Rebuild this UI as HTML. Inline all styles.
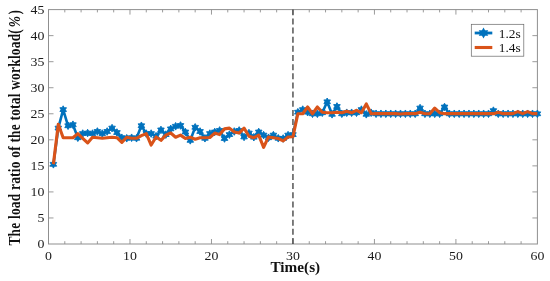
<!DOCTYPE html><html><head><meta charset="utf-8"><title>chart</title><style>html,body{margin:0;padding:0;background:#fff}</style></head><body><svg width="550" height="281" viewBox="0 0 550 281" style="display:block">
<rect width="550" height="281" fill="#fff"/>
<path d="M64.80 244.00v-2.80M64.80 9.60v2.80M81.09 244.00v-2.80M81.09 9.60v2.80M97.39 244.00v-2.80M97.39 9.60v2.80M113.69 244.00v-2.80M113.69 9.60v2.80M129.98 244.00v-5.00M129.98 9.60v5.00M146.28 244.00v-2.80M146.28 9.60v2.80M162.58 244.00v-2.80M162.58 9.60v2.80M178.87 244.00v-2.80M178.87 9.60v2.80M195.17 244.00v-2.80M195.17 9.60v2.80M211.47 244.00v-5.00M211.47 9.60v5.00M227.76 244.00v-2.80M227.76 9.60v2.80M244.06 244.00v-2.80M244.06 9.60v2.80M260.36 244.00v-2.80M260.36 9.60v2.80M276.65 244.00v-2.80M276.65 9.60v2.80M292.95 244.00v-5.00M292.95 9.60v5.00M309.25 244.00v-2.80M309.25 9.60v2.80M325.54 244.00v-2.80M325.54 9.60v2.80M341.84 244.00v-2.80M341.84 9.60v2.80M358.14 244.00v-2.80M358.14 9.60v2.80M374.43 244.00v-5.00M374.43 9.60v5.00M390.73 244.00v-2.80M390.73 9.60v2.80M407.03 244.00v-2.80M407.03 9.60v2.80M423.32 244.00v-2.80M423.32 9.60v2.80M439.62 244.00v-2.80M439.62 9.60v2.80M455.92 244.00v-5.00M455.92 9.60v5.00M472.21 244.00v-2.80M472.21 9.60v2.80M488.51 244.00v-2.80M488.51 9.60v2.80M504.81 244.00v-2.80M504.81 9.60v2.80M521.10 244.00v-2.80M521.10 9.60v2.80M48.50 217.96h5M537.40 217.96h-5M48.50 191.91h5M537.40 191.91h-5M48.50 165.87h5M537.40 165.87h-5M48.50 139.82h5M537.40 139.82h-5M48.50 113.78h5M537.40 113.78h-5M48.50 87.73h5M537.40 87.73h-5M48.50 61.69h5M537.40 61.69h-5M48.50 35.64h5M537.40 35.64h-5" stroke="#8f8f8f" stroke-width="0.9" fill="none"/>
<rect x="48.50" y="9.60" width="488.90" height="234.40" fill="none" stroke="#8f8f8f" stroke-width="1"/>
<path d="M292.95 244.00V9.60" stroke="#3a3a3a" stroke-width="1.3" stroke-dasharray="6 3.15" fill="none"/>
<path d="M53.39 164.30 L58.28 128.10 L63.17 109.61 L68.06 125.76 L72.94 124.72 L77.83 137.74 L82.72 133.57 L87.61 133.05 L92.50 133.57 L97.39 131.49 L102.28 133.57 L107.17 131.49 L112.06 128.10 L116.95 132.53 L121.83 137.74 L126.72 138.26 L131.61 137.74 L136.50 138.26 L141.39 125.76 L146.28 133.57 L151.17 133.57 L156.06 136.18 L160.95 129.93 L165.84 134.61 L170.72 128.88 L175.61 126.28 L180.50 125.50 L185.39 132.01 L190.28 140.34 L195.17 127.32 L200.06 131.49 L204.95 138.26 L209.84 133.57 L214.73 132.01 L219.61 130.45 L224.50 138.52 L229.39 134.61 L234.28 131.49 L239.17 130.45 L244.06 136.96 L248.95 133.05 L253.84 137.22 L258.73 132.01 L263.62 135.13 L268.50 137.74 L273.39 135.13 L278.28 138.26 L283.17 138.52 L288.06 135.13 L292.95 134.61 L297.84 112.22 L302.73 109.61 L307.62 112.22 L312.51 113.78 L317.39 113.78 L322.28 112.74 L327.17 101.80 L332.06 114.30 L336.95 106.49 L341.84 113.78 L346.73 112.74 L351.62 112.74 L356.51 112.74 L361.40 109.61 L366.28 114.30 L371.17 112.74 L376.06 113.78 L380.95 113.78 L385.84 113.78 L390.73 113.78 L395.62 113.78 L400.51 113.78 L405.40 113.78 L410.29 113.78 L415.18 113.78 L420.06 108.05 L424.95 113.78 L429.84 113.78 L434.73 113.78 L439.62 113.78 L444.51 107.01 L449.40 113.78 L454.29 113.78 L459.18 113.78 L464.06 113.78 L468.95 113.78 L473.84 113.78 L478.73 113.78 L483.62 113.78 L488.51 113.78 L493.40 110.65 L498.29 113.78 L503.18 113.78 L508.07 113.78 L512.95 113.78 L517.84 113.78 L522.73 113.78 L527.62 113.78 L532.51 113.78 L537.40 113.78" stroke="#0072BD" stroke-width="2.6" fill="none" stroke-linejoin="round"/>
<path d="M53.39 160.50 L52.29 162.40 L50.10 162.40 L51.20 164.30 L50.10 166.20 L52.29 166.20 L53.39 168.10 L54.49 166.20 L56.68 166.20 L55.58 164.30 L56.68 162.40 L54.49 162.40ZM58.28 124.30 L57.18 126.20 L54.99 126.20 L56.08 128.10 L54.99 130.00 L57.18 130.00 L58.28 131.90 L59.37 130.00 L61.57 130.00 L60.47 128.10 L61.57 126.20 L59.37 126.20ZM63.17 105.81 L62.07 107.71 L59.88 107.71 L60.97 109.61 L59.88 111.51 L62.07 111.51 L63.17 113.41 L64.26 111.51 L66.46 111.51 L65.36 109.61 L66.46 107.71 L64.26 107.71ZM68.06 121.96 L66.96 123.86 L64.77 123.86 L65.86 125.76 L64.77 127.66 L66.96 127.66 L68.06 129.56 L69.15 127.66 L71.35 127.66 L70.25 125.76 L71.35 123.86 L69.15 123.86ZM72.94 120.92 L71.85 122.82 L69.65 122.82 L70.75 124.72 L69.65 126.62 L71.85 126.62 L72.94 128.52 L74.04 126.62 L76.24 126.62 L75.14 124.72 L76.24 122.82 L74.04 122.82ZM77.83 133.94 L76.74 135.84 L74.54 135.84 L75.64 137.74 L74.54 139.64 L76.74 139.64 L77.83 141.54 L78.93 139.64 L81.12 139.64 L80.03 137.74 L81.12 135.84 L78.93 135.84ZM82.72 129.77 L81.63 131.67 L79.43 131.67 L80.53 133.57 L79.43 135.47 L81.63 135.47 L82.72 137.37 L83.82 135.47 L86.01 135.47 L84.92 133.57 L86.01 131.67 L83.82 131.67ZM87.61 129.25 L86.52 131.15 L84.32 131.15 L85.42 133.05 L84.32 134.95 L86.52 134.95 L87.61 136.85 L88.71 134.95 L90.90 134.95 L89.81 133.05 L90.90 131.15 L88.71 131.15ZM92.50 129.77 L91.40 131.67 L89.21 131.67 L90.31 133.57 L89.21 135.47 L91.40 135.47 L92.50 137.37 L93.60 135.47 L95.79 135.47 L94.69 133.57 L95.79 131.67 L93.60 131.67ZM97.39 127.69 L96.29 129.59 L94.10 129.59 L95.20 131.49 L94.10 133.39 L96.29 133.39 L97.39 135.29 L98.49 133.39 L100.68 133.39 L99.58 131.49 L100.68 129.59 L98.49 129.59ZM102.28 129.77 L101.18 131.67 L98.99 131.67 L100.09 133.57 L98.99 135.47 L101.18 135.47 L102.28 137.37 L103.38 135.47 L105.57 135.47 L104.47 133.57 L105.57 131.67 L103.38 131.67ZM107.17 127.69 L106.07 129.59 L103.88 129.59 L104.97 131.49 L103.88 133.39 L106.07 133.39 L107.17 135.29 L108.26 133.39 L110.46 133.39 L109.36 131.49 L110.46 129.59 L108.26 129.59ZM112.06 124.30 L110.96 126.20 L108.77 126.20 L109.86 128.10 L108.77 130.00 L110.96 130.00 L112.06 131.90 L113.15 130.00 L115.35 130.00 L114.25 128.10 L115.35 126.20 L113.15 126.20ZM116.95 128.73 L115.85 130.63 L113.66 130.63 L114.75 132.53 L113.66 134.43 L115.85 134.43 L116.95 136.33 L118.04 134.43 L120.24 134.43 L119.14 132.53 L120.24 130.63 L118.04 130.63ZM121.83 133.94 L120.74 135.84 L118.54 135.84 L119.64 137.74 L118.54 139.64 L120.74 139.64 L121.83 141.54 L122.93 139.64 L125.13 139.64 L124.03 137.74 L125.13 135.84 L122.93 135.84ZM126.72 134.46 L125.63 136.36 L123.43 136.36 L124.53 138.26 L123.43 140.16 L125.63 140.16 L126.72 142.06 L127.82 140.16 L130.01 140.16 L128.92 138.26 L130.01 136.36 L127.82 136.36ZM131.61 133.94 L130.52 135.84 L128.32 135.84 L129.42 137.74 L128.32 139.64 L130.52 139.64 L131.61 141.54 L132.71 139.64 L134.90 139.64 L133.81 137.74 L134.90 135.84 L132.71 135.84ZM136.50 134.46 L135.41 136.36 L133.21 136.36 L134.31 138.26 L133.21 140.16 L135.41 140.16 L136.50 142.06 L137.60 140.16 L139.79 140.16 L138.70 138.26 L139.79 136.36 L137.60 136.36ZM141.39 121.96 L140.29 123.86 L138.10 123.86 L139.20 125.76 L138.10 127.66 L140.29 127.66 L141.39 129.56 L142.49 127.66 L144.68 127.66 L143.58 125.76 L144.68 123.86 L142.49 123.86ZM146.28 129.77 L145.18 131.67 L142.99 131.67 L144.09 133.57 L142.99 135.47 L145.18 135.47 L146.28 137.37 L147.38 135.47 L149.57 135.47 L148.47 133.57 L149.57 131.67 L147.38 131.67ZM151.17 129.77 L150.07 131.67 L147.88 131.67 L148.98 133.57 L147.88 135.47 L150.07 135.47 L151.17 137.37 L152.27 135.47 L154.46 135.47 L153.36 133.57 L154.46 131.67 L152.27 131.67ZM156.06 132.38 L154.96 134.28 L152.77 134.28 L153.86 136.18 L152.77 138.08 L154.96 138.08 L156.06 139.98 L157.15 138.08 L159.35 138.08 L158.25 136.18 L159.35 134.28 L157.15 134.28ZM160.95 126.13 L159.85 128.03 L157.66 128.03 L158.75 129.93 L157.66 131.83 L159.85 131.83 L160.95 133.73 L162.04 131.83 L164.24 131.83 L163.14 129.93 L164.24 128.03 L162.04 128.03ZM165.84 130.81 L164.74 132.71 L162.55 132.71 L163.64 134.61 L162.55 136.51 L164.74 136.51 L165.84 138.41 L166.93 136.51 L169.13 136.51 L168.03 134.61 L169.13 132.71 L166.93 132.71ZM170.72 125.08 L169.63 126.98 L167.43 126.98 L168.53 128.88 L167.43 130.78 L169.63 130.78 L170.72 132.68 L171.82 130.78 L174.02 130.78 L172.92 128.88 L174.02 126.98 L171.82 126.98ZM175.61 122.48 L174.52 124.38 L172.32 124.38 L173.42 126.28 L172.32 128.18 L174.52 128.18 L175.61 130.08 L176.71 128.18 L178.90 128.18 L177.81 126.28 L178.90 124.38 L176.71 124.38ZM180.50 121.70 L179.41 123.60 L177.21 123.60 L178.31 125.50 L177.21 127.40 L179.41 127.40 L180.50 129.30 L181.60 127.40 L183.79 127.40 L182.70 125.50 L183.79 123.60 L181.60 123.60ZM185.39 128.21 L184.30 130.11 L182.10 130.11 L183.20 132.01 L182.10 133.91 L184.30 133.91 L185.39 135.81 L186.49 133.91 L188.68 133.91 L187.59 132.01 L188.68 130.11 L186.49 130.11ZM190.28 136.54 L189.18 138.44 L186.99 138.44 L188.09 140.34 L186.99 142.24 L189.18 142.24 L190.28 144.14 L191.38 142.24 L193.57 142.24 L192.47 140.34 L193.57 138.44 L191.38 138.44ZM195.17 123.52 L194.07 125.42 L191.88 125.42 L192.98 127.32 L191.88 129.22 L194.07 129.22 L195.17 131.12 L196.27 129.22 L198.46 129.22 L197.36 127.32 L198.46 125.42 L196.27 125.42ZM200.06 127.69 L198.96 129.59 L196.77 129.59 L197.87 131.49 L196.77 133.39 L198.96 133.39 L200.06 135.29 L201.16 133.39 L203.35 133.39 L202.25 131.49 L203.35 129.59 L201.16 129.59ZM204.95 134.46 L203.85 136.36 L201.66 136.36 L202.75 138.26 L201.66 140.16 L203.85 140.16 L204.95 142.06 L206.04 140.16 L208.24 140.16 L207.14 138.26 L208.24 136.36 L206.04 136.36ZM209.84 129.77 L208.74 131.67 L206.55 131.67 L207.64 133.57 L206.55 135.47 L208.74 135.47 L209.84 137.37 L210.93 135.47 L213.13 135.47 L212.03 133.57 L213.13 131.67 L210.93 131.67ZM214.73 128.21 L213.63 130.11 L211.44 130.11 L212.53 132.01 L211.44 133.91 L213.63 133.91 L214.73 135.81 L215.82 133.91 L218.02 133.91 L216.92 132.01 L218.02 130.11 L215.82 130.11ZM219.61 126.65 L218.52 128.55 L216.32 128.55 L217.42 130.45 L216.32 132.35 L218.52 132.35 L219.61 134.25 L220.71 132.35 L222.91 132.35 L221.81 130.45 L222.91 128.55 L220.71 128.55ZM224.50 134.72 L223.41 136.62 L221.21 136.62 L222.31 138.52 L221.21 140.42 L223.41 140.42 L224.50 142.32 L225.60 140.42 L227.79 140.42 L226.70 138.52 L227.79 136.62 L225.60 136.62ZM229.39 130.81 L228.30 132.71 L226.10 132.71 L227.20 134.61 L226.10 136.51 L228.30 136.51 L229.39 138.41 L230.49 136.51 L232.68 136.51 L231.59 134.61 L232.68 132.71 L230.49 132.71ZM234.28 127.69 L233.19 129.59 L230.99 129.59 L232.09 131.49 L230.99 133.39 L233.19 133.39 L234.28 135.29 L235.38 133.39 L237.57 133.39 L236.48 131.49 L237.57 129.59 L235.38 129.59ZM239.17 126.65 L238.07 128.55 L235.88 128.55 L236.98 130.45 L235.88 132.35 L238.07 132.35 L239.17 134.25 L240.27 132.35 L242.46 132.35 L241.36 130.45 L242.46 128.55 L240.27 128.55ZM244.06 133.16 L242.96 135.06 L240.77 135.06 L241.87 136.96 L240.77 138.86 L242.96 138.86 L244.06 140.76 L245.16 138.86 L247.35 138.86 L246.25 136.96 L247.35 135.06 L245.16 135.06ZM248.95 129.25 L247.85 131.15 L245.66 131.15 L246.76 133.05 L245.66 134.95 L247.85 134.95 L248.95 136.85 L250.05 134.95 L252.24 134.95 L251.14 133.05 L252.24 131.15 L250.05 131.15ZM253.84 133.42 L252.74 135.32 L250.55 135.32 L251.64 137.22 L250.55 139.12 L252.74 139.12 L253.84 141.02 L254.93 139.12 L257.13 139.12 L256.03 137.22 L257.13 135.32 L254.93 135.32ZM258.73 128.21 L257.63 130.11 L255.44 130.11 L256.53 132.01 L255.44 133.91 L257.63 133.91 L258.73 135.81 L259.82 133.91 L262.02 133.91 L260.92 132.01 L262.02 130.11 L259.82 130.11ZM263.62 131.33 L262.52 133.23 L260.33 133.23 L261.42 135.13 L260.33 137.03 L262.52 137.03 L263.62 138.93 L264.71 137.03 L266.91 137.03 L265.81 135.13 L266.91 133.23 L264.71 133.23ZM268.50 133.94 L267.41 135.84 L265.21 135.84 L266.31 137.74 L265.21 139.64 L267.41 139.64 L268.50 141.54 L269.60 139.64 L271.80 139.64 L270.70 137.74 L271.80 135.84 L269.60 135.84ZM273.39 131.33 L272.30 133.23 L270.10 133.23 L271.20 135.13 L270.10 137.03 L272.30 137.03 L273.39 138.93 L274.49 137.03 L276.68 137.03 L275.59 135.13 L276.68 133.23 L274.49 133.23ZM278.28 134.46 L277.19 136.36 L274.99 136.36 L276.09 138.26 L274.99 140.16 L277.19 140.16 L278.28 142.06 L279.38 140.16 L281.57 140.16 L280.48 138.26 L281.57 136.36 L279.38 136.36ZM283.17 134.72 L282.08 136.62 L279.88 136.62 L280.98 138.52 L279.88 140.42 L282.08 140.42 L283.17 142.32 L284.27 140.42 L286.46 140.42 L285.37 138.52 L286.46 136.62 L284.27 136.62ZM288.06 131.33 L286.96 133.23 L284.77 133.23 L285.87 135.13 L284.77 137.03 L286.96 137.03 L288.06 138.93 L289.16 137.03 L291.35 137.03 L290.25 135.13 L291.35 133.23 L289.16 133.23ZM292.95 130.81 L291.85 132.71 L289.66 132.71 L290.76 134.61 L289.66 136.51 L291.85 136.51 L292.95 138.41 L294.05 136.51 L296.24 136.51 L295.14 134.61 L296.24 132.71 L294.05 132.71ZM297.84 108.42 L296.74 110.32 L294.55 110.32 L295.65 112.22 L294.55 114.12 L296.74 114.12 L297.84 116.02 L298.94 114.12 L301.13 114.12 L300.03 112.22 L301.13 110.32 L298.94 110.32ZM302.73 105.81 L301.63 107.71 L299.44 107.71 L300.53 109.61 L299.44 111.51 L301.63 111.51 L302.73 113.41 L303.82 111.51 L306.02 111.51 L304.92 109.61 L306.02 107.71 L303.82 107.71ZM307.62 108.42 L306.52 110.32 L304.33 110.32 L305.42 112.22 L304.33 114.12 L306.52 114.12 L307.62 116.02 L308.71 114.12 L310.91 114.12 L309.81 112.22 L310.91 110.32 L308.71 110.32ZM312.51 109.98 L311.41 111.88 L309.22 111.88 L310.31 113.78 L309.22 115.68 L311.41 115.68 L312.51 117.58 L313.60 115.68 L315.80 115.68 L314.70 113.78 L315.80 111.88 L313.60 111.88ZM317.39 109.98 L316.30 111.88 L314.10 111.88 L315.20 113.78 L314.10 115.68 L316.30 115.68 L317.39 117.58 L318.49 115.68 L320.69 115.68 L319.59 113.78 L320.69 111.88 L318.49 111.88ZM322.28 108.94 L321.19 110.84 L318.99 110.84 L320.09 112.74 L318.99 114.64 L321.19 114.64 L322.28 116.54 L323.38 114.64 L325.57 114.64 L324.48 112.74 L325.57 110.84 L323.38 110.84ZM327.17 98.00 L326.08 99.90 L323.88 99.90 L324.98 101.80 L323.88 103.70 L326.08 103.70 L327.17 105.60 L328.27 103.70 L330.46 103.70 L329.37 101.80 L330.46 99.90 L328.27 99.90ZM332.06 110.50 L330.97 112.40 L328.77 112.40 L329.87 114.30 L328.77 116.20 L330.97 116.20 L332.06 118.10 L333.16 116.20 L335.35 116.20 L334.26 114.30 L335.35 112.40 L333.16 112.40ZM336.95 102.69 L335.85 104.59 L333.66 104.59 L334.76 106.49 L333.66 108.39 L335.85 108.39 L336.95 110.29 L338.05 108.39 L340.24 108.39 L339.14 106.49 L340.24 104.59 L338.05 104.59ZM341.84 109.98 L340.74 111.88 L338.55 111.88 L339.65 113.78 L338.55 115.68 L340.74 115.68 L341.84 117.58 L342.94 115.68 L345.13 115.68 L344.03 113.78 L345.13 111.88 L342.94 111.88ZM346.73 108.94 L345.63 110.84 L343.44 110.84 L344.54 112.74 L343.44 114.64 L345.63 114.64 L346.73 116.54 L347.83 114.64 L350.02 114.64 L348.92 112.74 L350.02 110.84 L347.83 110.84ZM351.62 108.94 L350.52 110.84 L348.33 110.84 L349.42 112.74 L348.33 114.64 L350.52 114.64 L351.62 116.54 L352.71 114.64 L354.91 114.64 L353.81 112.74 L354.91 110.84 L352.71 110.84ZM356.51 108.94 L355.41 110.84 L353.22 110.84 L354.31 112.74 L353.22 114.64 L355.41 114.64 L356.51 116.54 L357.60 114.64 L359.80 114.64 L358.70 112.74 L359.80 110.84 L357.60 110.84ZM361.40 105.81 L360.30 107.71 L358.11 107.71 L359.20 109.61 L358.11 111.51 L360.30 111.51 L361.40 113.41 L362.49 111.51 L364.69 111.51 L363.59 109.61 L364.69 107.71 L362.49 107.71ZM366.28 110.50 L365.19 112.40 L362.99 112.40 L364.09 114.30 L362.99 116.20 L365.19 116.20 L366.28 118.10 L367.38 116.20 L369.58 116.20 L368.48 114.30 L369.58 112.40 L367.38 112.40ZM371.17 108.94 L370.08 110.84 L367.88 110.84 L368.98 112.74 L367.88 114.64 L370.08 114.64 L371.17 116.54 L372.27 114.64 L374.46 114.64 L373.37 112.74 L374.46 110.84 L372.27 110.84ZM376.06 109.98 L374.97 111.88 L372.77 111.88 L373.87 113.78 L372.77 115.68 L374.97 115.68 L376.06 117.58 L377.16 115.68 L379.35 115.68 L378.26 113.78 L379.35 111.88 L377.16 111.88ZM380.95 109.98 L379.86 111.88 L377.66 111.88 L378.76 113.78 L377.66 115.68 L379.86 115.68 L380.95 117.58 L382.05 115.68 L384.24 115.68 L383.15 113.78 L384.24 111.88 L382.05 111.88ZM385.84 109.98 L384.74 111.88 L382.55 111.88 L383.65 113.78 L382.55 115.68 L384.74 115.68 L385.84 117.58 L386.94 115.68 L389.13 115.68 L388.03 113.78 L389.13 111.88 L386.94 111.88ZM390.73 109.98 L389.63 111.88 L387.44 111.88 L388.54 113.78 L387.44 115.68 L389.63 115.68 L390.73 117.58 L391.83 115.68 L394.02 115.68 L392.92 113.78 L394.02 111.88 L391.83 111.88ZM395.62 109.98 L394.52 111.88 L392.33 111.88 L393.43 113.78 L392.33 115.68 L394.52 115.68 L395.62 117.58 L396.72 115.68 L398.91 115.68 L397.81 113.78 L398.91 111.88 L396.72 111.88ZM400.51 109.98 L399.41 111.88 L397.22 111.88 L398.31 113.78 L397.22 115.68 L399.41 115.68 L400.51 117.58 L401.60 115.68 L403.80 115.68 L402.70 113.78 L403.80 111.88 L401.60 111.88ZM405.40 109.98 L404.30 111.88 L402.11 111.88 L403.20 113.78 L402.11 115.68 L404.30 115.68 L405.40 117.58 L406.49 115.68 L408.69 115.68 L407.59 113.78 L408.69 111.88 L406.49 111.88ZM410.29 109.98 L409.19 111.88 L407.00 111.88 L408.09 113.78 L407.00 115.68 L409.19 115.68 L410.29 117.58 L411.38 115.68 L413.58 115.68 L412.48 113.78 L413.58 111.88 L411.38 111.88ZM415.18 109.98 L414.08 111.88 L411.88 111.88 L412.98 113.78 L411.88 115.68 L414.08 115.68 L415.18 117.58 L416.27 115.68 L418.47 115.68 L417.37 113.78 L418.47 111.88 L416.27 111.88ZM420.06 104.25 L418.97 106.15 L416.77 106.15 L417.87 108.05 L416.77 109.95 L418.97 109.95 L420.06 111.85 L421.16 109.95 L423.35 109.95 L422.26 108.05 L423.35 106.15 L421.16 106.15ZM424.95 109.98 L423.86 111.88 L421.66 111.88 L422.76 113.78 L421.66 115.68 L423.86 115.68 L424.95 117.58 L426.05 115.68 L428.24 115.68 L427.15 113.78 L428.24 111.88 L426.05 111.88ZM429.84 109.98 L428.75 111.88 L426.55 111.88 L427.65 113.78 L426.55 115.68 L428.75 115.68 L429.84 117.58 L430.94 115.68 L433.13 115.68 L432.04 113.78 L433.13 111.88 L430.94 111.88ZM434.73 109.98 L433.63 111.88 L431.44 111.88 L432.54 113.78 L431.44 115.68 L433.63 115.68 L434.73 117.58 L435.83 115.68 L438.02 115.68 L436.92 113.78 L438.02 111.88 L435.83 111.88ZM439.62 109.98 L438.52 111.88 L436.33 111.88 L437.43 113.78 L436.33 115.68 L438.52 115.68 L439.62 117.58 L440.72 115.68 L442.91 115.68 L441.81 113.78 L442.91 111.88 L440.72 111.88ZM444.51 103.21 L443.41 105.11 L441.22 105.11 L442.32 107.01 L441.22 108.91 L443.41 108.91 L444.51 110.81 L445.61 108.91 L447.80 108.91 L446.70 107.01 L447.80 105.11 L445.61 105.11ZM449.40 109.98 L448.30 111.88 L446.11 111.88 L447.20 113.78 L446.11 115.68 L448.30 115.68 L449.40 117.58 L450.49 115.68 L452.69 115.68 L451.59 113.78 L452.69 111.88 L450.49 111.88ZM454.29 109.98 L453.19 111.88 L451.00 111.88 L452.09 113.78 L451.00 115.68 L453.19 115.68 L454.29 117.58 L455.38 115.68 L457.58 115.68 L456.48 113.78 L457.58 111.88 L455.38 111.88ZM459.18 109.98 L458.08 111.88 L455.89 111.88 L456.98 113.78 L455.89 115.68 L458.08 115.68 L459.18 117.58 L460.27 115.68 L462.47 115.68 L461.37 113.78 L462.47 111.88 L460.27 111.88ZM464.06 109.98 L462.97 111.88 L460.77 111.88 L461.87 113.78 L460.77 115.68 L462.97 115.68 L464.06 117.58 L465.16 115.68 L467.36 115.68 L466.26 113.78 L467.36 111.88 L465.16 111.88ZM468.95 109.98 L467.86 111.88 L465.66 111.88 L466.76 113.78 L465.66 115.68 L467.86 115.68 L468.95 117.58 L470.05 115.68 L472.24 115.68 L471.15 113.78 L472.24 111.88 L470.05 111.88ZM473.84 109.98 L472.75 111.88 L470.55 111.88 L471.65 113.78 L470.55 115.68 L472.75 115.68 L473.84 117.58 L474.94 115.68 L477.13 115.68 L476.04 113.78 L477.13 111.88 L474.94 111.88ZM478.73 109.98 L477.64 111.88 L475.44 111.88 L476.54 113.78 L475.44 115.68 L477.64 115.68 L478.73 117.58 L479.83 115.68 L482.02 115.68 L480.93 113.78 L482.02 111.88 L479.83 111.88ZM483.62 109.98 L482.52 111.88 L480.33 111.88 L481.43 113.78 L480.33 115.68 L482.52 115.68 L483.62 117.58 L484.72 115.68 L486.91 115.68 L485.81 113.78 L486.91 111.88 L484.72 111.88ZM488.51 109.98 L487.41 111.88 L485.22 111.88 L486.32 113.78 L485.22 115.68 L487.41 115.68 L488.51 117.58 L489.61 115.68 L491.80 115.68 L490.70 113.78 L491.80 111.88 L489.61 111.88ZM493.40 106.85 L492.30 108.75 L490.11 108.75 L491.21 110.65 L490.11 112.55 L492.30 112.55 L493.40 114.45 L494.50 112.55 L496.69 112.55 L495.59 110.65 L496.69 108.75 L494.50 108.75ZM498.29 109.98 L497.19 111.88 L495.00 111.88 L496.09 113.78 L495.00 115.68 L497.19 115.68 L498.29 117.58 L499.38 115.68 L501.58 115.68 L500.48 113.78 L501.58 111.88 L499.38 111.88ZM503.18 109.98 L502.08 111.88 L499.89 111.88 L500.98 113.78 L499.89 115.68 L502.08 115.68 L503.18 117.58 L504.27 115.68 L506.47 115.68 L505.37 113.78 L506.47 111.88 L504.27 111.88ZM508.07 109.98 L506.97 111.88 L504.78 111.88 L505.87 113.78 L504.78 115.68 L506.97 115.68 L508.07 117.58 L509.16 115.68 L511.36 115.68 L510.26 113.78 L511.36 111.88 L509.16 111.88ZM512.95 109.98 L511.86 111.88 L509.66 111.88 L510.76 113.78 L509.66 115.68 L511.86 115.68 L512.95 117.58 L514.05 115.68 L516.25 115.68 L515.15 113.78 L516.25 111.88 L514.05 111.88ZM517.84 109.98 L516.75 111.88 L514.55 111.88 L515.65 113.78 L514.55 115.68 L516.75 115.68 L517.84 117.58 L518.94 115.68 L521.13 115.68 L520.04 113.78 L521.13 111.88 L518.94 111.88ZM522.73 109.98 L521.64 111.88 L519.44 111.88 L520.54 113.78 L519.44 115.68 L521.64 115.68 L522.73 117.58 L523.83 115.68 L526.02 115.68 L524.93 113.78 L526.02 111.88 L523.83 111.88ZM527.62 109.98 L526.53 111.88 L524.33 111.88 L525.43 113.78 L524.33 115.68 L526.53 115.68 L527.62 117.58 L528.72 115.68 L530.91 115.68 L529.82 113.78 L530.91 111.88 L528.72 111.88ZM532.51 109.98 L531.41 111.88 L529.22 111.88 L530.32 113.78 L529.22 115.68 L531.41 115.68 L532.51 117.58 L533.61 115.68 L535.80 115.68 L534.70 113.78 L535.80 111.88 L533.61 111.88ZM537.40 109.98 L536.30 111.88 L534.11 111.88 L535.21 113.78 L534.11 115.68 L536.30 115.68 L537.40 117.58 L538.50 115.68 L540.69 115.68 L539.59 113.78 L540.69 111.88 L538.50 111.88Z" fill="#0072BD" stroke="#0072BD" stroke-width="0.9" stroke-linejoin="miter"/>
<path d="M53.39 164.30 L58.28 124.20 L63.17 137.74 L68.06 137.74 L72.94 137.74 L77.83 133.57 L82.72 138.26 L87.61 142.95 L92.50 137.22 L97.39 137.74 L102.28 138.26 L107.17 137.74 L112.06 137.22 L116.95 137.74 L121.83 142.43 L126.72 137.22 L131.61 138.26 L136.50 138.26 L141.39 135.66 L146.28 133.57 L151.17 145.03 L156.06 136.96 L160.95 140.34 L165.84 135.13 L170.72 133.05 L175.61 137.22 L180.50 135.13 L185.39 138.52 L190.28 137.22 L195.17 139.30 L200.06 137.74 L204.95 137.74 L209.84 137.48 L214.73 133.05 L219.61 134.61 L224.50 128.88 L229.39 128.10 L234.28 132.01 L239.17 133.05 L244.06 128.10 L248.95 136.18 L253.84 137.74 L258.73 135.13 L263.62 147.38 L268.50 136.96 L273.39 137.74 L278.28 138.52 L283.17 140.86 L288.06 136.96 L292.95 136.70 L297.84 113.78 L302.73 113.78 L307.62 107.01 L312.51 113.78 L317.39 107.01 L322.28 112.22 L327.17 112.74 L332.06 112.74 L336.95 112.22 L341.84 112.74 L346.73 111.17 L351.62 112.74 L356.51 110.39 L361.40 112.74 L366.28 103.88 L371.17 113.78 L376.06 113.67 L380.95 113.67 L385.84 113.67 L390.73 113.67 L395.62 113.67 L400.51 114.04 L405.40 113.67 L410.29 113.67 L415.18 113.67 L420.06 112.22 L424.95 113.78 L429.84 113.67 L434.73 108.05 L439.62 112.74 L444.51 113.67 L449.40 113.67 L454.29 113.67 L459.18 113.67 L464.06 113.67 L468.95 113.67 L473.84 113.67 L478.73 113.67 L483.62 113.67 L488.51 113.67 L493.40 113.67 L498.29 112.22 L503.18 113.67 L508.07 113.67 L512.95 113.67 L517.84 111.59 L522.73 113.67 L527.62 111.59 L532.51 113.67 L537.40 113.67" stroke="#D95319" stroke-width="3.1" fill="none" stroke-linejoin="round"/>
<g font-family="'Liberation Serif', serif" font-size="12.6" fill="#1a1a1a">
<text transform="translate(48.50,260.3) scale(1.1,1)" text-anchor="middle">0</text>
<text transform="translate(129.98,260.3) scale(1.1,1)" text-anchor="middle">10</text>
<text transform="translate(211.47,260.3) scale(1.1,1)" text-anchor="middle">20</text>
<text transform="translate(292.95,260.3) scale(1.1,1)" text-anchor="middle">30</text>
<text transform="translate(374.43,260.3) scale(1.1,1)" text-anchor="middle">40</text>
<text transform="translate(455.92,260.3) scale(1.1,1)" text-anchor="middle">50</text>
<text transform="translate(537.40,260.3) scale(1.1,1)" text-anchor="middle">60</text>
<text transform="translate(44.4,248.15) scale(1.1,1)" text-anchor="end">0</text>
<text transform="translate(44.4,222.11) scale(1.1,1)" text-anchor="end">5</text>
<text transform="translate(44.4,196.06) scale(1.1,1)" text-anchor="end">10</text>
<text transform="translate(44.4,170.02) scale(1.1,1)" text-anchor="end">15</text>
<text transform="translate(44.4,143.97) scale(1.1,1)" text-anchor="end">20</text>
<text transform="translate(44.4,117.93) scale(1.1,1)" text-anchor="end">25</text>
<text transform="translate(44.4,91.88) scale(1.1,1)" text-anchor="end">30</text>
<text transform="translate(44.4,65.84) scale(1.1,1)" text-anchor="end">35</text>
<text transform="translate(44.4,39.79) scale(1.1,1)" text-anchor="end">40</text>
<text transform="translate(44.4,13.75) scale(1.1,1)" text-anchor="end">45</text>
</g>
<text transform="translate(295.3,271.5) scale(1.075,1)" text-anchor="middle" font-family="'Liberation Serif', serif" font-weight="bold" font-size="14.2" fill="#111">Time(s)</text>
<text transform="translate(20,245.6) rotate(-90) scale(1,1.2)" textLength="235.5" lengthAdjust="spacing" font-family="'Liberation Serif', serif" font-weight="bold" font-size="13.4" fill="#111">The load ratio of the total workload(<tspan font-style="italic" dx="1.8">%</tspan><tspan dx="1.2">)</tspan></text>
<rect x="471.3" y="24.3" width="52.5" height="31.9" fill="#fff" stroke="#666" stroke-width="0.7"/>
<path d="M474.7 33H492.3" stroke="#0072BD" stroke-width="2.8"/>
<path d="M483.50 29.10 L482.37 31.05 L480.12 31.05 L481.25 33.00 L480.12 34.95 L482.37 34.95 L483.50 36.90 L484.63 34.95 L486.88 34.95 L485.75 33.00 L486.88 31.05 L484.63 31.05Z" fill="#0072BD" stroke="#0072BD" stroke-width="1.6"/>
<path d="M474.7 47.5H492.3" stroke="#D95319" stroke-width="3.1"/>
<g font-family="'Liberation Serif', serif" font-size="13.3" fill="#111"><text transform="translate(498.8,37.6) scale(1.01,1)">1.2s</text><text transform="translate(498.8,52.1) scale(1.01,1)">1.4s</text></g>
</svg></body></html>
